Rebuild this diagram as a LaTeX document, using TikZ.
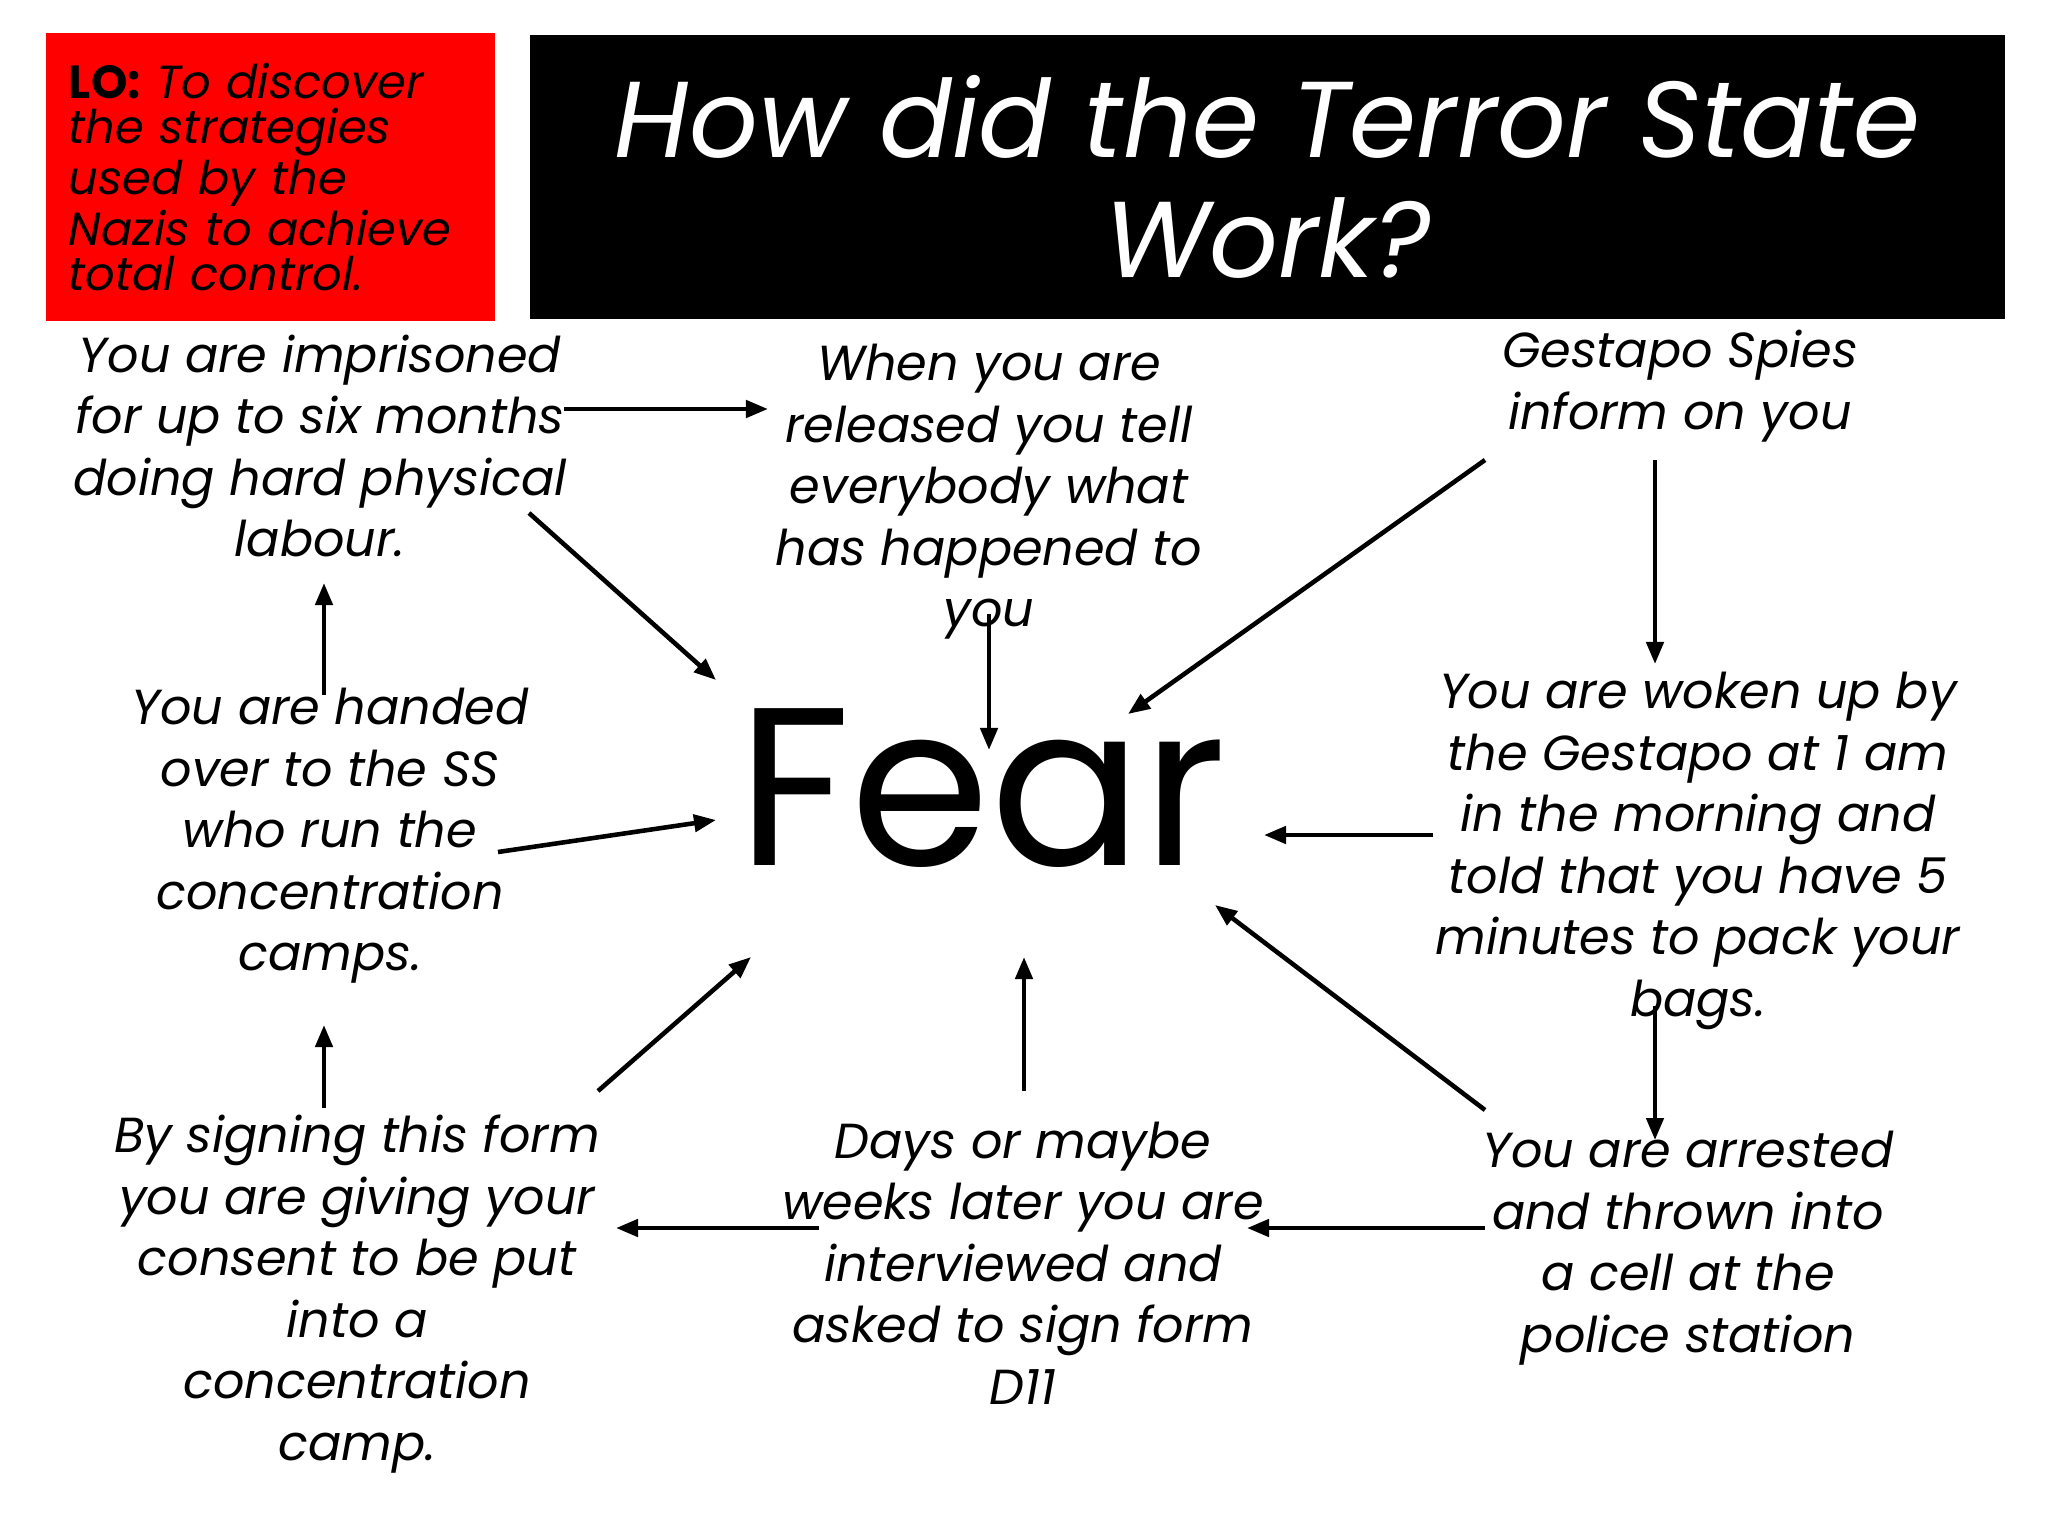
\documentclass[tikz,border=0pt]{standalone}
\usepackage{fontspec}
\setmainfont{Poppins}
\usetikzlibrary{arrows.meta}

\begin{document}
\begin{tikzpicture}[x=0.01cm,y=-0.01cm,
    arr/.style={-{Triangle[length=0.22cm,width=0.17cm]},line width=1.3pt},
    event/.style={align=center,inner sep=0pt,font=\fontsize{14}{17.5}\selectfont\itshape}]

  \useasboundingbox (0,0) rectangle (2048,1536);

  % header boxes
  \node[fill=red,minimum width=4.49cm,minimum height=2.88cm,inner xsep=0.23cm,
        text width=4.03cm,align=left,font=\fontsize{13.2}{13}\selectfont\itshape]
        (lo) at (270.5,177) {\textup{\textbf{LO:}} To discover\\the strategies\\used by the\\Nazis to achieve\\total control.};
  \node[fill=black,text=white,minimum width=14.75cm,minimum height=2.84cm,align=center,
        font=\fontsize{30.7}{34}\selectfont\itshape]
        (title) at (1267.5,177) {How did the Terror State\\Work?};

  % centre
  \node[inner sep=0pt,font=\fontsize{64}{64}\selectfont] (fear) at (982,788) {Fear};

  % the cycle
  \node[event] (imprisoned) at (320,446) {You are imprisoned\\for up to six months\\doing hard physical\\labour.};
  \node[event] (released) at (989,492) {When you are\\released you tell\\everybody what\\has happened to\\you};
  \node[event] (gestapo) at (1680,386) {Gestapo Spies\\inform on you};
  \node[event] (woken) at (1698,851) {You are woken up by\\the Gestapo at 1 am\\in the morning and\\told that you have 5\\minutes to pack your\\bags.};
  \node[event] (arrested) at (1688,1248) {You are arrested\\and thrown into\\a cell at the\\police station};
  \node[event] (days) at (1023,1263) {Days or maybe\\weeks later you are\\interviewed and\\asked to sign form\\D11};
  \node[event] (signing) at (357,1294) {By signing this form\\you are giving your\\consent to be put\\into a\\concentration\\camp.};
  \node[event] (handed) at (330,836) {You are handed\\over to the SS\\who run the\\concentration\\camps.};

  \draw[arr] ([shift={(244,-37)}]imprisoned.center) -- ([shift={(-221,-83)}]released.center);
  \draw[arr] ([shift={(209,67)}]imprisoned.center) -- ([shift={(-266,-108)}]fear.center);
  \draw[arr] ([shift={(0,122)}]released.center) -- ([shift={(7,-38)}]fear.center);
  \draw[arr] ([shift={(-195,74)}]gestapo.center) -- ([shift={(146,-74)}]fear.center);
  \draw[arr] ([shift={(-25,74)}]gestapo.center) -- ([shift={(-43,-187)}]woken.center);
  \draw[arr] ([shift={(-265,-16)}]woken.center) -- ([shift={(282,47)}]fear.center);
  \draw[arr] ([shift={(-43,155)}]woken.center) -- ([shift={(-33,-108)}]arrested.center);
  \draw[arr] ([shift={(-203,-138)}]arrested.center) -- ([shift={(233,117)}]fear.center);
  \draw[arr] ([shift={(-203,-20)}]arrested.center) -- ([shift={(224,-35)}]days.center);
  \draw[arr] ([shift={(1,-172)}]days.center) -- ([shift={(42,169)}]fear.center);
  \draw[arr] ([shift={(-204,-35)}]days.center) -- ([shift={(259,-66)}]signing.center);
  \draw[arr] ([shift={(241,-203)}]signing.center) -- ([shift={(-231,169)}]fear.center);
  \draw[arr] ([shift={(-33,-186)}]signing.center) -- ([shift={(-6,189)}]handed.center);
  \draw[arr] ([shift={(168,16)}]handed.center) -- ([shift={(-266,32)}]fear.center);
  \draw[arr] ([shift={(-6,-141)}]handed.center) -- ([shift={(4,137)}]imprisoned.center);
\end{tikzpicture}
\end{document}
